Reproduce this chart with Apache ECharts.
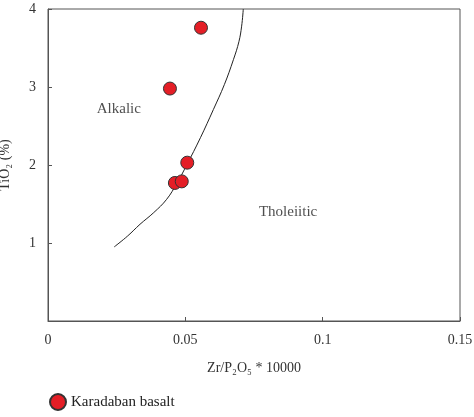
<!DOCTYPE html>
<html><head><meta charset="utf-8">
<script src="https://cdn.jsdelivr.net/npm/echarts@6/dist/echarts.min.js"></script>
<style>html,body{margin:0;padding:0;background:#fff}#c{width:474px;height:417px}</style>
</head><body><div id="c"></div>
<script>
var xTicks = [0, 0.05, 0.1, 0.15];
var yTicks = [1, 2, 3, 4];
var basaltX = [0.0557, 0.0444, 0.0507, 0.0462, 0.0487];
var basaltY = [3.76, 2.98, 2.03, 1.77, 1.79];
var curveX = [0.0241, 0.0290, 0.0335, 0.0385, 0.0432, 0.0470, 0.0505, 0.0555, 0.0602, 0.0642, 0.0675, 0.0695, 0.0705, 0.0711];
var curveY = [0.95, 1.09, 1.24, 1.39, 1.56, 1.77, 2.00, 2.35, 2.71, 3.03, 3.35, 3.58, 3.78, 4.0];
var labelNames = ['Alkalic', 'Tholeiitic'];
var labelX = [0.0258, 0.0874];
var labelY = [2.72, 1.40];

var F = 'Liberation Serif';
var chart = echarts.init(document.getElementById('c'));
chart.setOption({
  animation: false,
  textStyle: {fontFamily: F},
  grid: {left: 48, right: 14, top: 9, bottom: 96, containLabel: false, outerBoundsMode: 'none'},
  legend: {data: ['Karadaban basalt'], left: 44, bottom: 1, itemWidth: 16, itemHeight: 16,
    textStyle: {fontFamily: F, fontSize: 15, color: '#222'}},
  xAxis: {type: 'value', min: 0, max: 0.15, interval: 0.05,
    name: 'Zr/P\u2082O\u2085 * 10000', nameLocation: 'middle', nameGap: 40,
    nameTextStyle: {fontFamily: F, fontSize: 14, color: '#333'},
    axisLine: {lineStyle: {color: '#555'}}, axisTick: {inside: true, length: 4, lineStyle: {color: '#555'}},
    axisLabel: {fontFamily: F, fontSize: 14, color: '#333', margin: 12,
      formatter: function (v) { return xTicks.indexOf(+v.toFixed(2)) >= 0 ? String(+v.toFixed(2)) : ''; }},
    splitLine: {show: false}},
  yAxis: {type: 'value', min: 0, max: 4, interval: 1,
    name: 'TiO\u2082 (%)', nameLocation: 'middle', nameGap: 36,
    nameTextStyle: {fontFamily: F, fontSize: 14, color: '#333'},
    axisLine: {lineStyle: {color: '#555'}}, axisTick: {inside: true, length: 4, lineStyle: {color: '#555'}},
    axisLabel: {fontFamily: F, fontSize: 14, color: '#333', margin: 12,
      formatter: function (v) { return yTicks.indexOf(v) >= 0 ? String(v) : ''; }},
    splitLine: {show: false}},
  series: [
    {type: 'line', data: curveX.map(function (x, i) { return [x, curveY[i]]; }), smooth: 0.4,
      symbol: 'none', lineStyle: {color: '#222', width: 1}, silent: true, z: 1},
    {type: 'scatter', data: labelNames.map(function (n, i) { return {name: n, value: [labelX[i], labelY[i]]}; }),
      symbolSize: 0, label: {show: true, position: 'inside', formatter: '{b}', fontFamily: F, fontSize: 15, color: '#222'}},
    {name: 'Karadaban basalt', type: 'scatter', data: basaltX.map(function (x, i) { return [x, basaltY[i]]; }),
      symbolSize: 13, itemStyle: {color: '#e41e26', opacity: 1, borderColor: '#333', borderWidth: 1}, z: 3}
  ],
  graphic: [{type: 'rect', shape: {x: 48, y: 9, width: 412, height: 312}, style: {fill: 'none', stroke: '#555', lineWidth: 1}, silent: true}]
});
</script></body></html>
